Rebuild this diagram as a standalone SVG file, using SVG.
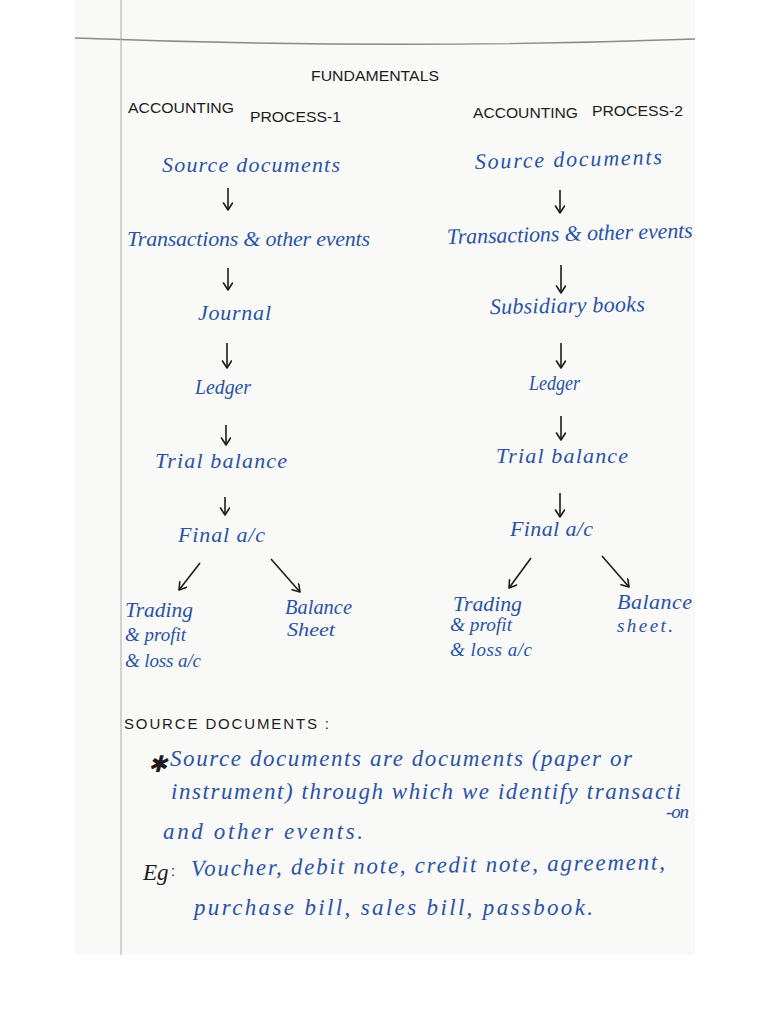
<svg xmlns="http://www.w3.org/2000/svg" width="768" height="1024" viewBox="0 0 768 1024">
<style>
.hw{font-family:"Liberation Serif","DejaVu Serif",serif;font-style:italic;fill:#2a53a6;font-size:22px}
.sm{font-size:19px}
.lg{font-size:23px}
.cap{font-family:"Liberation Sans","DejaVu Sans",sans-serif;fill:#1c1c1c;font-size:15px}
.blk{font-family:"Liberation Serif","DejaVu Serif",serif;font-style:italic;fill:#1c1c1c;font-size:23px}
.arr{stroke:#1c1c1c;stroke-width:1.6;fill:none;marker-end:url(#ah)}
</style>
<defs>
<marker id="ah" markerUnits="userSpaceOnUse" markerWidth="12" markerHeight="12" refX="8" refY="5" orient="auto">
<path d="M1,0.5 L8,5 L1,9.5" fill="none" stroke="#1c1c1c" stroke-width="1.6" stroke-linecap="round" stroke-linejoin="round"/>
</marker>
</defs>
<rect x="0" y="0" width="768" height="1024" fill="#ffffff"/>
<rect x="75" y="0" width="620" height="955" fill="#f9f9f7"/>
<path d="M75,38 Q390,50 695,39" fill="none" stroke="#8a8a8a" stroke-width="1.3"/>
<line x1="121" y1="0" x2="121" y2="955" stroke="#a8a8a8" stroke-width="1"/>

<g id="title"><text class="cap" x="311" y="81" textLength="128" lengthAdjust="spacingAndGlyphs" font-size="14">FUNDAMENTALS</text></g>
<g id="heading-1">
<text class="cap" x="128" y="113" textLength="106" lengthAdjust="spacingAndGlyphs">ACCOUNTING</text>
<text class="cap" x="250" y="122" textLength="91" lengthAdjust="spacingAndGlyphs">PROCESS-1</text>
</g>
<g id="heading-2">
<text class="cap" x="473" y="118" textLength="105" lengthAdjust="spacingAndGlyphs">ACCOUNTING</text>
<text class="cap" x="592" y="116" textLength="91" lengthAdjust="spacingAndGlyphs">PROCESS-2</text>
</g>

<g id="connectors">
<line class="arr" x1="228" y1="188" x2="228" y2="210"/>
<line class="arr" x1="228" y1="268" x2="228" y2="290"/>
<line class="arr" x1="227" y1="343" x2="227" y2="368"/>
<line class="arr" x1="226" y1="425" x2="226" y2="445"/>
<line class="arr" x1="225" y1="497" x2="225" y2="515"/>
<line class="arr" x1="200" y1="563" x2="179" y2="590"/>
<line class="arr" x1="271" y1="559" x2="300" y2="592"/>
<line class="arr" x1="560" y1="190" x2="560" y2="213"/>
<line class="arr" x1="561" y1="265" x2="561" y2="293"/>
<line class="arr" x1="561" y1="343" x2="561" y2="368"/>
<line class="arr" x1="561" y1="416" x2="561" y2="440"/>
<line class="arr" x1="560" y1="493" x2="560" y2="517"/>
<line class="arr" x1="531" y1="558" x2="509" y2="588"/>
<line class="arr" x1="602" y1="556" x2="629" y2="587"/>
</g>

<g id="p1-source"><text class="hw" x="162" y="172" textLength="178" lengthAdjust="spacing">Source documents</text></g>
<g id="p1-transactions"><text class="hw" x="127" y="246" textLength="243" lengthAdjust="spacing">Transactions &amp; other events</text></g>
<g id="p1-journal"><text class="hw" x="198" y="320" textLength="73" lengthAdjust="spacing">Journal</text></g>
<g id="p1-ledger"><text class="hw" x="195" y="394" textLength="56" lengthAdjust="spacingAndGlyphs">Ledger</text></g>
<g id="p1-trial"><text class="hw" x="155" y="468" textLength="132" lengthAdjust="spacing">Trial balance</text></g>
<g id="p1-final"><text class="hw" x="178" y="542" textLength="87" lengthAdjust="spacing">Final a/c</text></g>
<g id="p1-trading">
<text class="hw" x="125" y="617" textLength="68" lengthAdjust="spacingAndGlyphs">Trading</text>
<text class="hw sm" x="125" y="641" textLength="61" lengthAdjust="spacingAndGlyphs">&amp; profit</text>
<text class="hw sm" x="125" y="667" textLength="76" lengthAdjust="spacing">&amp; loss a/c</text>
</g>
<g id="p1-balance">
<text class="hw" x="285" y="614" textLength="67" lengthAdjust="spacingAndGlyphs">Balance</text>
<text class="hw sm" x="287" y="636" textLength="48" lengthAdjust="spacingAndGlyphs">Sheet</text>
</g>

<g id="p2-source"><text class="hw" x="475" y="169" textLength="187" lengthAdjust="spacing" transform="rotate(-1.5 475 169)">Source documents</text></g>
<g id="p2-transactions"><text class="hw" x="447" y="244" textLength="246" lengthAdjust="spacing" transform="rotate(-1.5 447 244)">Transactions &amp; other events</text></g>
<g id="p2-subsidiary"><text class="hw" x="490" y="314" textLength="155" lengthAdjust="spacing" transform="rotate(-1 490 314)">Subsidiary books</text></g>
<g id="p2-ledger"><text class="hw" x="529" y="390" textLength="51" lengthAdjust="spacingAndGlyphs">Ledger</text></g>
<g id="p2-trial"><text class="hw" x="496" y="463" textLength="132" lengthAdjust="spacing">Trial balance</text></g>
<g id="p2-final"><text class="hw" x="510" y="536" textLength="83" lengthAdjust="spacing">Final a/c</text></g>
<g id="p2-trading">
<text class="hw" x="453" y="611" textLength="69" lengthAdjust="spacingAndGlyphs">Trading</text>
<text class="hw sm" x="450" y="631" textLength="62" lengthAdjust="spacingAndGlyphs">&amp; profit</text>
<text class="hw sm" x="450" y="656" textLength="82" lengthAdjust="spacing">&amp; loss a/c</text>
</g>
<g id="p2-balance">
<text class="hw" x="617" y="609" textLength="75" lengthAdjust="spacing">Balance</text>
<text class="hw sm" x="617" y="632" textLength="56" lengthAdjust="spacing">sheet.</text>
</g>

<g id="notes">
<text class="cap" x="124" y="729" textLength="205" lengthAdjust="spacing">SOURCE  DOCUMENTS :</text>
<text class="blk" x="148" y="772">✱</text>
<text class="hw lg" x="170" y="766" textLength="462" lengthAdjust="spacing">Source documents are documents (paper or</text>
<text class="hw lg" x="171" y="799" textLength="510" lengthAdjust="spacing">instrument) through which we identify transacti</text>
<text class="hw sm" x="666" y="818" textLength="23" lengthAdjust="spacing">-on</text>
<text class="hw lg" x="163" y="839" textLength="200" lengthAdjust="spacing">and other events.</text>
<text class="blk" x="143" y="880">Eg</text>
<text class="cap" x="171" y="876">:</text>
<text class="hw lg" x="191" y="876" textLength="474" lengthAdjust="spacing" transform="rotate(-0.8 191 876)">Voucher, debit note, credit note, agreement,</text>
<text class="hw lg" x="194" y="915" textLength="399" lengthAdjust="spacing">purchase bill, sales bill, passbook.</text>
</g>
</svg>
